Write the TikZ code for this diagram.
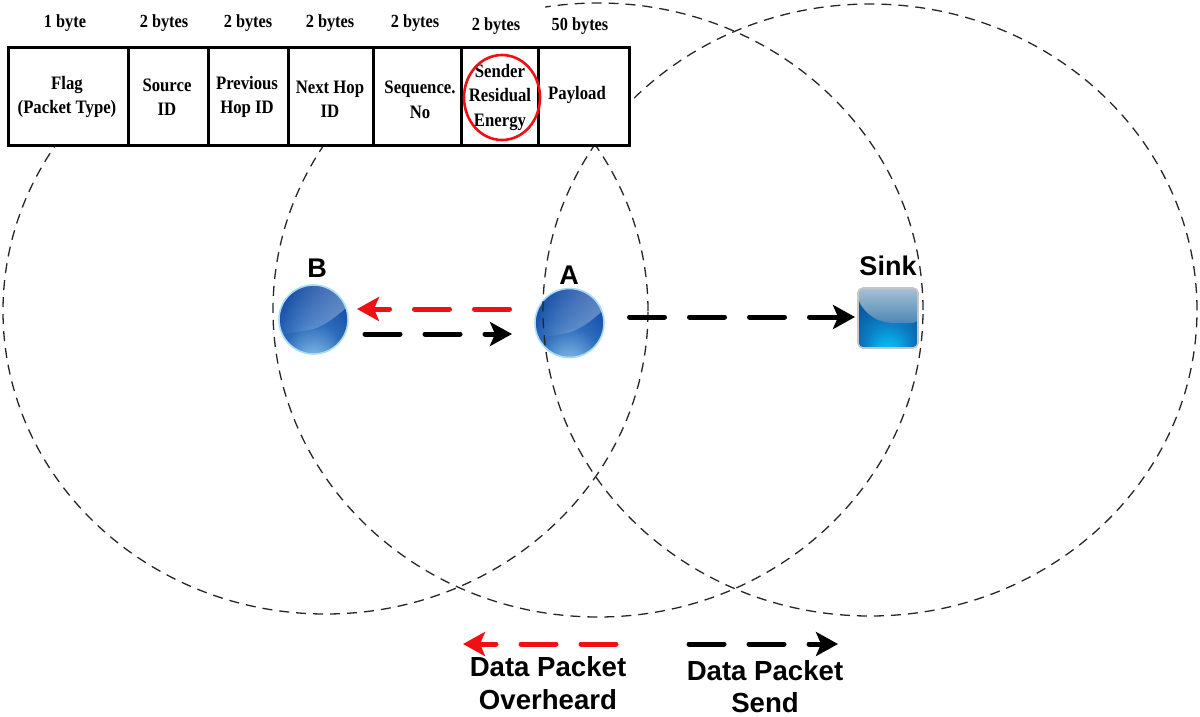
\documentclass[tikz,border=0pt]{standalone}
\usepackage{fontspec}
\setmainfont{Liberation Serif}
\setsansfont{Liberation Sans}
\newfontfamily\tallserif[FakeStretch=0.88]{Liberation Serif}
\usetikzlibrary{arrows.meta,shapes.geometric,fadings}
\definecolor{pktred}{HTML}{F00F14}
\definecolor{orbA}{HTML}{B4DDF3}
\definecolor{orbB}{HTML}{6EA8DC}
\definecolor{orbC}{HTML}{2E6CBC}
\definecolor{orbD}{HTML}{114AA4}
\definecolor{orbE}{HTML}{08358C}
\definecolor{orbRim}{HTML}{A8DCF5}
\definecolor{sinkA}{HTML}{06D8FF}
\definecolor{sinkB}{HTML}{08B4EE}
\definecolor{sinkC}{HTML}{0A80C8}
\definecolor{sinkD}{HTML}{0A5A9E}
\definecolor{sinkTop}{HTML}{A6C2D6}
\definecolor{sinkLow}{HTML}{4F86B2}
\pgfdeclareradialshading{orbshade}{\pgfpoint{0bp}{-38bp}}{%
 color(0bp)=(orbA);color(9bp)=(orbB);color(20bp)=(orbC);color(34bp)=(orbD);color(50bp)=(orbE)}
\pgfdeclareradialshading{sinkshade}{\pgfpoint{0bp}{-36bp}}{%
 color(0bp)=(sinkA);color(8bp)=(sinkB);color(18bp)=(sinkC);color(30bp)=(sinkD);color(50bp)=(sinkD)}
\tikzset{
 rangeline/.style={draw=black!85,line width=1.3pt,dash pattern=on 10pt off 7pt},
 cell/.style={draw=black,line width=3.2pt,fill=white,inner sep=0pt,anchor=north west},
 celltext/.style={align=center,inner sep=0pt,font=\fontsize{19}{24.5}\tallserif\bfseries},
 sizelabel/.style={font=\fontsize{18.5}{20}\tallserif\bfseries,inner sep=0pt},
 orb/.style={circle,minimum size=69pt,inner sep=0pt,draw=orbRim,line width=1.6pt,
   path picture={
     \shade[shading=orbshade] (path picture bounding box.south west) rectangle (path picture bounding box.north east);
     \fill[white,opacity=.34,path fading=west] (path picture bounding box.north west)
       -- (path picture bounding box.north east) -- ([yshift=-21pt]path picture bounding box.north east)
       .. controls ([xshift=-12pt,yshift=-32pt]path picture bounding box.north east) and ([xshift=12pt,yshift=-40pt]path picture bounding box.north) .. ([yshift=-44pt]path picture bounding box.north)
       -- ([yshift=-50pt]path picture bounding box.north west) -- cycle;
   }},
 sinkbox/.style={rectangle,rounded corners=5pt,minimum size=60pt,inner sep=0pt,draw=black!22,line width=1.6pt,
   path picture={
     \shade[shading=sinkshade] (path picture bounding box.south west) rectangle (path picture bounding box.north east);
     \shade[top color=sinkTop,bottom color=sinkLow]
       (path picture bounding box.north west) -- (path picture bounding box.north east)
       -- ([yshift=-35pt]path picture bounding box.north east)
       -- ([xshift=-28pt,yshift=-35pt]path picture bounding box.north east)
       .. controls ([xshift=16pt,yshift=-32pt]path picture bounding box.north west) and ([xshift=7pt,yshift=-24pt]path picture bounding box.north west) .. ([yshift=-12pt]path picture bounding box.north west)
       -- cycle;
   }},
 namelabel/.style={font=\fontsize{27}{29}\selectfont\sffamily\bfseries,inner sep=0pt},
 legendlabel/.style={font=\fontsize{27.6}{32.5}\selectfont\sffamily\bfseries,inner sep=0pt,align=center},
 flow/.style={line width=5pt,line cap=round,dash pattern=on 35pt off 25pt,
   -{Stealth[length=22pt,width=24pt,inset=5pt]}},
 sendflow/.style={flow,draw=black},
 hearflow/.style={flow,draw=pktred}
}
\newcommand{\cellnode}[5]{\node[cell,minimum width=#3pt,minimum height=98.5pt] (#1) at (#2,45.5) {};
  \node[celltext] (#1t) at (#4) {#5};}
\begin{document}
\begin{tikzpicture}[x=1pt,y=-1pt]
\useasboundingbox (0,0) rectangle (1200,716);
% orbs and sink go beneath the range ellipses
\node[orb] (B) at (313.5,319.5) {};
\node[orb] (A) at (569.5,323) {};
\node[sinkbox] (Sink) at (888,318) {};
% ranges
\draw[rangeline] (325.5,311) ellipse [x radius=322.5pt,y radius=303pt];
\draw[rangeline] (598,310) ellipse [x radius=325pt,y radius=307pt];
\draw[rangeline] (870,310) ellipse [x radius=327pt,y radius=306pt];
% white margin behind the packet table
\fill[white] (0,0) -- (545,0) -- (545,40) -- (634,40) -- (634,146) -- (0,146) -- cycle;
% packet table
\cellnode{c1}{7}{120}{67,97}{Flag\\(Packet Type)}
\cellnode{c2}{127}{80}{167,97}{Source\\ID}
\cellnode{c3}{207}{80}{247,97}{Previous\\Hop ID}
\cellnode{c4}{287}{85}{330,99.5}{Next Hop\\ID}
\cellnode{c5}{372}{88}{420,100}{Sequence.\\No}
\cellnode{c6}{460}{77}{500,97}{Sender\\Residual\\Energy}
\cellnode{c7}{537}{91}{577,95}{Payload}
\node[sizelabel] (s1) at (65,23) {1 byte};
\node[sizelabel] (s2) at (164,23) {2 bytes};
\node[sizelabel] (s3) at (248,23) {2 bytes};
\node[sizelabel] (s4) at (330,23) {2 bytes};
\node[sizelabel] (s5) at (415,23) {2 bytes};
\node[sizelabel] (s6) at (496,26) {2 bytes};
\node[sizelabel] (s7) at (580,26) {50 bytes};
\node[draw=pktred,line width=2.6pt,ellipse,minimum width=76pt,minimum height=85pt,inner sep=0pt] (mark) at (502,97.5) {};
% node names
\node[namelabel] (lB) at (317,268) {B};
\node[namelabel] (lA) at (569,275) {A};
\node[namelabel] (lS) at (888,266) {Sink};
% flows
\coordinate (hs) at ([shift={(-60pt,14pt)}]A.center);
\coordinate (he) at ([shift={(43.5pt,10.5pt)}]B.center);
\coordinate (ss) at ([shift={(51.5pt,-14.5pt)}]B.center);
\coordinate (se) at ([shift={(-57.5pt,-11pt)}]A.center);
\coordinate (ts) at ([shift={(60pt,6pt)}]A.center);
\coordinate (te) at ([shift={(-33pt,1pt)}]Sink.center);
\draw[hearflow] (hs) -- (he);
\draw[sendflow] (ss) -- (se);
\draw[sendflow] (ts) -- (te);
% legend
\coordinate (l1s) at (616,644);
\coordinate (l1e) at (463,644);
\coordinate (l2s) at (689,644);
\coordinate (l2e) at (838,644);
\draw[hearflow] (l1s) -- (l1e);
\draw[sendflow] (l2s) -- (l2e);
\node[legendlabel] (lg1) at (548,683) {Data Packet\\Overheard};
\node[legendlabel] (lg2) at (765,686.5) {Data Packet\\Send};
\end{tikzpicture}
\end{document}
